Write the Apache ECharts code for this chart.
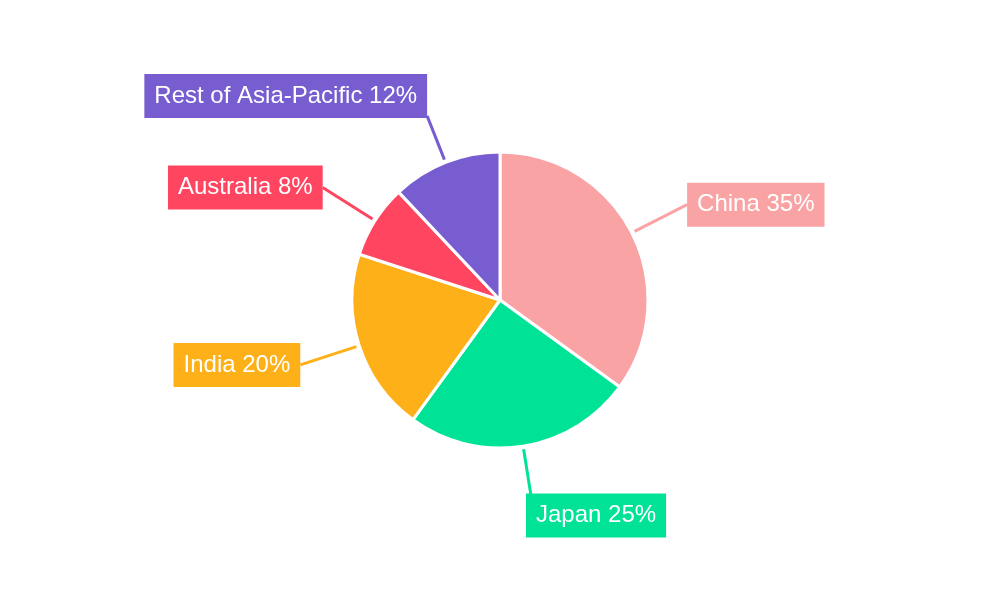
<!DOCTYPE html>
<html>
<head>
<meta charset="utf-8">
<script src="https://cdn.jsdelivr.net/npm/echarts@6/dist/echarts.min.js"></script>
<style>html,body{margin:0;padding:0;background:#fff}#c{width:1000px;height:600px}</style>
</head>
<body>
<div id="c"></div>
<script>
const categories = ['China', 'Japan', 'India', 'Australia', 'Rest of Asia-Pacific'];
const shares = [35, 25, 20, 8, 12];
const colors = ['#F9A3A4', '#00E396', '#FEB019', '#FF4560', '#775DD0'];

const chart = echarts.init(document.getElementById('c'));
const CX = 500, CY = 300, R = 148;
const total = shares.reduce((a, b) => a + b, 0);
const mids = [];
let acc = 0;
shares.forEach(v => { mids.push((acc + v / 2) / total * 2 * Math.PI); acc += v; });

chart.setOption({
  animation: false,
  backgroundColor: '#ffffff',
  series: [{
    type: 'pie',
    center: [CX, CY],
    radius: [0, R],
    startAngle: 90,
    clockwise: true,
    data: categories.map((c, i) => ({
      name: c, value: shares[i],
      itemStyle: { color: colors[i] },
      label: { backgroundColor: colors[i] },
      labelLine: { lineStyle: { color: colors[i] } }
    })),
    itemStyle: { borderColor: '#ffffff', borderWidth: 3 },
    label: {
      show: true,
      position: 'outside',
      formatter: '{b} {c}%',
      color: '#ffffff',
      fontFamily: 'Liberation Sans, Arial, sans-serif',
      fontSize: 24,
      lineHeight: 24,
      padding: [10, 10]
    },
    labelLine: { show: true, length: 50, length2: 0, lineStyle: { width: 3 } },
    labelLayout: function (p) {
      const a = mids[p.dataIndex];
      const s = Math.sin(a), c = -Math.cos(a);
      const horiz = Math.abs(s) > 0.7;
      const r0 = R + 3, r1 = horiz ? 210 : 198;
      const x0 = CX + r0 * s, y0 = CY + r0 * c;
      const x1 = CX + r1 * s, y1 = CY + r1 * c;
      const align = s > 0 ? 'left' : 'right';
      const valign = horiz ? 'middle' : (c > 0 ? 'top' : 'bottom');
      return {
        x: x1 + (horiz ? 0 : (s > 0 ? -5 : 0)),
        y: y1 + (horiz ? 0 : (c > 0 ? -2 : 2)),
        align: align, verticalAlign: valign,
        labelLinePoints: [[x0, y0], [x1, y1], [x1, y1]]
      };
    }
  }]
});
</script>
</body>
</html>
